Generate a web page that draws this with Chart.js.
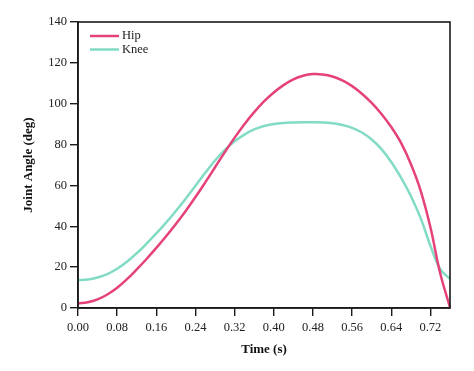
<!DOCTYPE html>
<html>
<head>
<meta charset="utf-8">
<script src="https://cdn.jsdelivr.net/npm/chart.js@4.4.0/dist/chart.umd.min.js"></script>
<style>
  html, body { margin: 0; padding: 0; background: #ffffff; }
  #wrap { width: 474px; height: 371px; }
</style>
</head>
<body>
<div id="wrap"><canvas id="c" width="474" height="371"></canvas></div>
<script>
const seriesNames = ["Hip", "Knee"];
const times = [0.00,0.02,0.04,0.06,0.08,0.10,0.12,0.14,0.16,0.18,0.20,0.22,0.24,0.26,0.28,0.30,0.32,0.34,0.36,0.38,0.40,0.42,0.44,0.46,0.48,0.50,0.52,0.54,0.56,0.58,0.60,0.62,0.64,0.66,0.68,0.70,0.72,0.74,0.76];
const hip  = [2.3,2.8,4.2,6.6,9.9,14.1,18.9,24.0,29.4,35.1,41.1,47.5,54.3,61.5,68.9,76.3,83.4,90.0,95.9,101.1,105.5,109.1,111.9,113.7,114.5,114.3,113.3,111.4,108.6,104.9,100.4,95.0,88.6,80.8,70.5,57.5,39.5,17.0,0.3];
const knee = [13.7,13.9,14.9,16.6,19.2,22.6,26.8,31.5,36.5,41.8,47.5,53.5,59.8,66.2,72.2,77.4,81.6,84.9,87.4,89.1,90.1,90.6,90.8,90.9,90.9,90.8,90.4,89.6,88.2,85.9,82.5,77.8,71.5,63.8,54.8,44.0,30.5,19.0,14.2];
const xTicks = [0.00,0.08,0.16,0.24,0.32,0.40,0.48,0.56,0.64,0.72];
const yTicks = [0,20,40,60,80,100,120,140];
const colors = ["#e5427a", "#82dbc5"];

const FONT = "'Liberation Serif', 'Times New Roman', serif";

const framePlugin = {
  id: 'frameLegend',
  afterDatasetsDraw(chart) {
    const {ctx, chartArea: a} = chart;
    ctx.save();
    ctx.strokeStyle = '#1a1a1a';
    ctx.lineWidth = 1.6;
    ctx.strokeRect(a.left, a.top, a.right - a.left, a.bottom - a.top);
    ctx.font = "12.5px " + FONT;
    ctx.textBaseline = 'middle';
    ctx.textAlign = 'left';
    chart.data.datasets.forEach((ds, i) => {
      const y = a.top + 14 + i * 13.5;
      ctx.strokeStyle = ds.borderColor;
      ctx.lineWidth = 2.5;
      ctx.beginPath();
      ctx.moveTo(a.left + 12, y);
      ctx.lineTo(a.left + 41, y);
      ctx.stroke();
      ctx.fillStyle = '#222';
      ctx.fillText(ds.label, a.left + 44, y);
    });
    ctx.restore();
  }
};

new Chart(document.getElementById('c'), {
  type: 'line',
  data: {
    datasets: seriesNames.map((name, i) => ({
      label: name,
      data: times.map((t, k) => ({x: t, y: (i === 0 ? hip : knee)[k]})),
      borderColor: colors[i],
      backgroundColor: colors[i],
      borderWidth: 2.5,
      pointRadius: 0,
      fill: false,
      tension: 0.4
    }))
  },
  options: {
    responsive: false,
    animation: false,
    clip: false,
    layout: { padding: { top: 22, right: 24, left: 0, bottom: 0 } },
    plugins: { legend: { display: false }, tooltip: { enabled: false } },
    scales: {
      x: {
        type: 'linear',
        min: 0, max: 0.76,
        afterBuildTicks(scale) { scale.ticks = xTicks.map(v => ({value: v})); },
        afterFit(scale) { scale.height = 63; },
        ticks: {
          callback: v => Number(v).toFixed(2),
          color: '#222',
          font: { family: FONT, size: 12.5 },
          padding: 4,
          maxRotation: 0,
          autoSkip: false
        },
        grid: { drawOnChartArea: false, drawTicks: true, tickLength: 8, color: '#1a1a1a', lineWidth: 1.4 },
        border: { display: true, color: '#1a1a1a', width: 1.6 },
        title: { display: true, text: 'Time (s)', color: '#111', font: { family: FONT, size: 13, weight: 'bold' }, padding: { top: 0, bottom: 14 } }
      },
      y: {
        type: 'linear',
        min: 0, max: 140,
        afterBuildTicks(scale) { scale.ticks = yTicks.map(v => ({value: v})); },
        afterFit(scale) { scale.width = 78; },
        ticks: {
          color: '#222',
          font: { family: FONT, size: 12.5 },
          padding: 3
        },
        grid: { drawOnChartArea: false, drawTicks: true, tickLength: 8, color: '#1a1a1a', lineWidth: 1.4 },
        border: { display: true, color: '#1a1a1a', width: 1.6 },
        title: { display: true, text: 'Joint Angle (deg)', color: '#111', font: { family: FONT, size: 13, weight: 'bold' }, padding: { bottom: 0, top: 21 } }
      }
    }
  },
  plugins: [framePlugin]
});
</script>
</body>
</html>
